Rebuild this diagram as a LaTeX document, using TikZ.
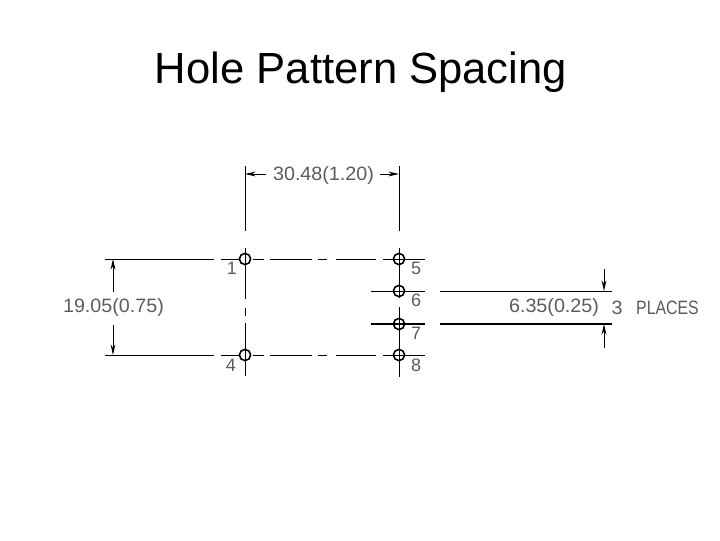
\documentclass[tikz,border=0pt]{standalone}
\usepackage{fontspec}
\setmainfont{Liberation Sans}
\usetikzlibrary{arrows.meta}
\definecolor{cadgray}{gray}{0.36}
\tikzset{
  ln/.style={line width=0.75pt,black},
  thick ln/.style={line width=1.4pt,black},
  hole/.style={circle,draw=black,line width=1.2pt,minimum size=8.4pt,inner sep=0pt},
  dimarrow/.style={line width=0.75pt,black,-{Stealth[length=8pt,width=3.6pt]}},
  cadtext/.style={text=cadgray,inner sep=0pt,font=\fontsize{14.5}{16}\selectfont,xscale=1.02},
  cadplaces/.style={text=cadgray,inner sep=0pt,font=\fontsize{14.5}{16}\selectfont,xscale=0.82},
  cadnum/.style={text=cadgray,inner sep=0pt,font=\fontsize{13.5}{15}\selectfont},
  titletext/.style={inner sep=0pt,text=black,font=\fontsize{32.7}{38}\selectfont}
}
\begin{document}
\begin{tikzpicture}[x=0.75pt,y=-0.75pt]
\useasboundingbox[fill=white] (0,0) rectangle (720,540);
\node[titletext] (title) at (361,72) {Hole Pattern Spacing};
% holes
\node[hole] (h1) at (245,259) {};
\node[hole] (h4) at (245,355) {};
\node[hole] (h5) at (399,259) {};
\node[hole] (h6) at (399,291) {};
\node[hole] (h7) at (399,324) {};
\node[hole] (h8) at (399,355) {};
% vertical centre lines
\draw[ln] (245,166) -- (245,231);
\draw[ln] (245,248) -- (245,299);
\draw[ln] (245,308) -- (245,316);
\draw[ln] (245,323) -- (245,376);
\draw[ln] (399,166) -- (399,231);
\draw[ln] (399,248) -- (399,298);
\draw[ln] (399,307) -- (399,377);
% horizontal centre lines
\foreach \y in {259,355}{
  \draw[ln] (105,\y) -- (214,\y);
  \draw[ln] (221,\y) -- (240,\y);
  \draw[ln] (253,\y) -- (264,\y);
  \draw[ln] (270,\y) -- (312,\y);
  \draw[ln] (318,\y) -- (327,\y);
  \draw[ln] (336,\y) -- (376,\y);
  \draw[ln] (383,\y) -- (425,\y);
}
\draw[ln] (371,291) -- (425,291);
\draw[ln] (440,291) -- (612,291);
\draw[thick ln] (371,324) -- (425,324);
\draw[thick ln] (440,324) -- (612,324);
% dimension labels
\node[cadtext] (dtop) at (323.5,175) {30.48(1.20)};
\node[cadtext] (dleft) at (113.5,307.5) {19.05(0.75)};
\node[cadtext] (dright) at (554,307.5) {6.35(0.25)};
\node[cadtext] (d3) at (617,307.5) {3};
\node[cadplaces] (dplaces) at (667.5,307.5) {PLACES};
% dimension arrows
\coordinate (a1) at (266,174); \coordinate (a2) at (245,174);
\coordinate (a3) at (380,174); \coordinate (a4) at (399,174);
\coordinate (b1) at (113,292); \coordinate (b2) at (113,259);
\coordinate (b3) at (113,325); \coordinate (b4) at (113,355);
\coordinate (c1) at (604,269); \coordinate (c2) at (604,291);
\coordinate (c3) at (604,348); \coordinate (c4) at (604,324);
\draw[dimarrow] (a1) -- (a2);
\draw[dimarrow] (a3) -- (a4);
\draw[dimarrow] (b1) -- (b2);
\draw[dimarrow] (b3) -- (b4);
\draw[dimarrow] (c1) -- (c2);
\draw[dimarrow] (c3) -- (c4);
% hole numbers
\node[cadnum] (n1) at (232,268.5) {1};
\node[cadnum] (n4) at (231,365.5) {4};
\node[cadnum] (n5) at (416,268.5) {5};
\node[cadnum] (n6) at (416,300.5) {6};
\node[cadnum] (n7) at (416,333.5) {7};
\node[cadnum] (n8) at (416,365.5) {8};
\end{tikzpicture}
\end{document}
